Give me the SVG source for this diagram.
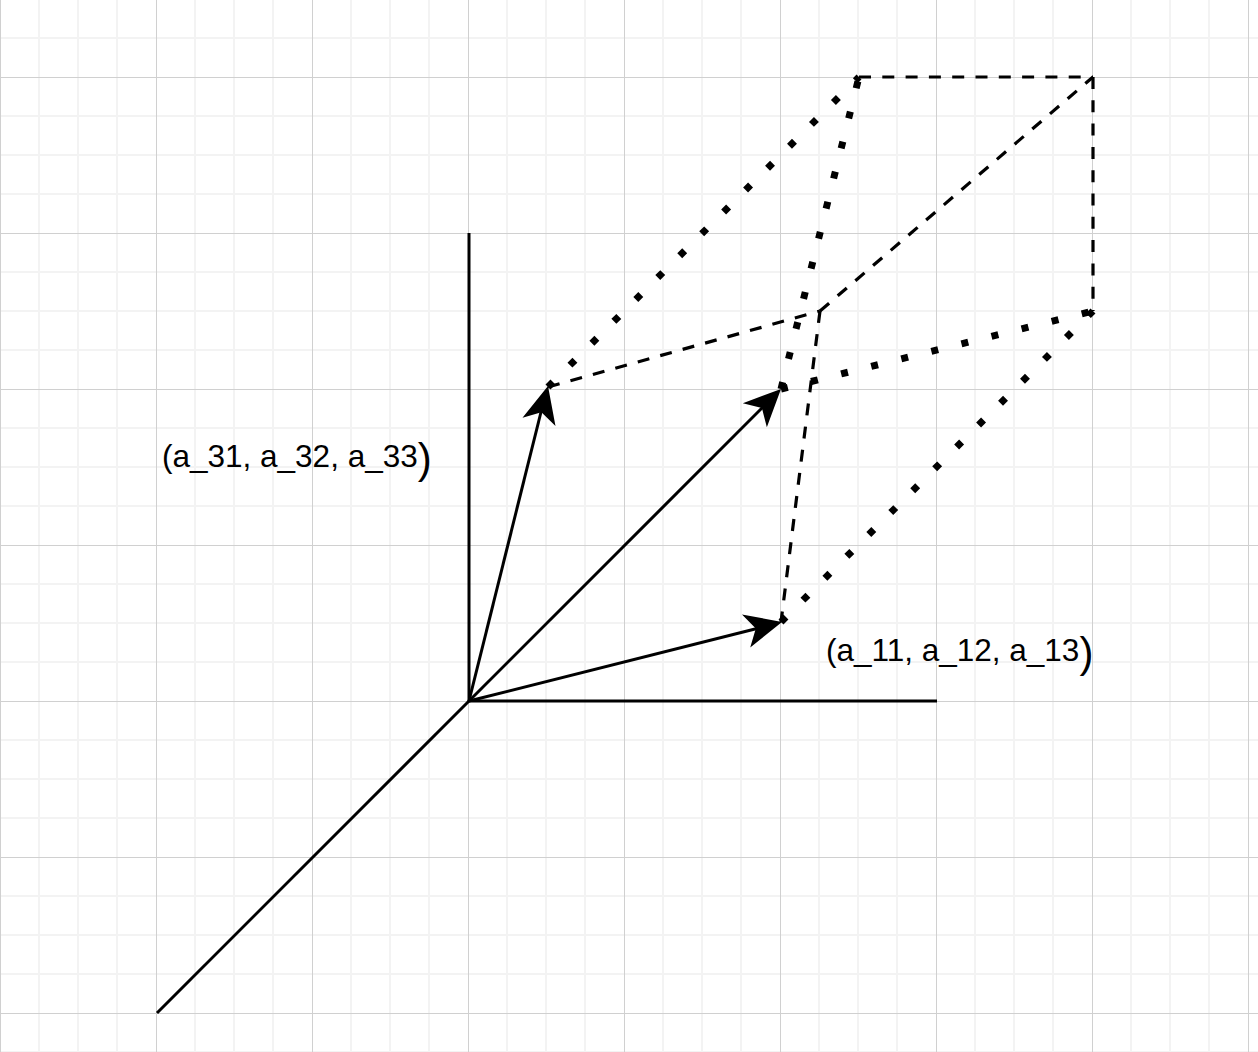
<svg xmlns="http://www.w3.org/2000/svg" xmlns:xlink="http://www.w3.org/1999/xlink" width="1258" height="1052" viewBox="0 0 1258 1052">
<style>
.minor{stroke:#f3f3f3;stroke-width:2;fill:none}
.major{stroke:#d0d0d0;stroke-width:1;fill:none}
.axis{stroke:#000;stroke-width:3;fill:none}
.dash{stroke:#000;stroke-width:3.2;fill:none;stroke-dasharray:12 11.3}
.dot{stroke:#000;stroke-width:7;fill:none;stroke-dasharray:7 24;stroke-linecap:butt}
.lbl{font-family:"Liberation Sans",Arial,Helvetica,sans-serif;font-size:31.5px;fill:#000}
</style>
<defs>
<path id="ah" d="M0,0 L-37,-17 L-27,0 L-37,17 Z" fill="#000"/>
</defs>
<rect width="1258" height="1052" fill="#fff"/>
<g id="grid">
<path class="minor" d="M0 0V1052M39 0V1052M78 0V1052M117 0V1052M195 0V1052M234 0V1052M273 0V1052M351 0V1052M390 0V1052M429 0V1052M507 0V1052M546 0V1052M585 0V1052M663 0V1052M702 0V1052M741 0V1052M819 0V1052M858 0V1052M897 0V1052M975 0V1052M1014 0V1052M1053 0V1052M1131 0V1052M1170 0V1052M1209 0V1052"/>
<path class="minor" d="M0 -1H1258M0 38H1258M0 116H1258M0 155H1258M0 194H1258M0 272H1258M0 311H1258M0 350H1258M0 428H1258M0 467H1258M0 506H1258M0 584H1258M0 623H1258M0 662H1258M0 740H1258M0 779H1258M0 818H1258M0 896H1258M0 935H1258M0 974H1258M0 1052H1258"/>
<path class="major" d="M0.5 0V1052M156.5 0V1052M312.5 0V1052M468.5 0V1052M624.5 0V1052M780.5 0V1052M936.5 0V1052M1092.5 0V1052M1248.5 0V1052"/>
<path class="major" d="M0 77.5H1258M0 233.5H1258M0 389.5H1258M0 545.5H1258M0 701.5H1258M0 857.5H1258M0 1013.5H1258"/>
</g>
<g id="axes">
<line class="axis" x1="469" y1="233" x2="469" y2="701"/>
<line class="axis" x1="469" y1="701" x2="937" y2="701"/>
<line class="axis" x1="469" y1="701" x2="157" y2="1013"/>
</g>
<g id="connectors">
<line class="dash" x1="548" y1="387" x2="820" y2="311"/>
<line class="dash" x1="820" y1="311" x2="1093" y2="77"/>
<line class="dash" x1="859" y1="77" x2="1093" y2="77"/>
<line class="dash" x1="1093" y1="77" x2="1093" y2="311"/>
<line class="dash" x1="820" y1="311" x2="781" y2="622"/>
<line class="dot" x1="548" y1="387" x2="859" y2="77"/>
<line class="dot" x1="781" y1="389" x2="859" y2="77"/>
<line class="dot" x1="781" y1="389" x2="1093" y2="311"/>
<line class="dot" x1="781" y1="622" x2="1093" y2="311"/>
</g>
<g id="vectors">
<line class="axis" x1="469" y1="701" x2="542" y2="408"/>
<use xlink:href="#ah" transform="translate(548,386) rotate(-75.9)"/>
<line class="axis" x1="469" y1="701" x2="764" y2="406"/>
<use xlink:href="#ah" transform="translate(781,389) rotate(-45)"/>
<line class="axis" x1="469" y1="701" x2="759" y2="628"/>
<use xlink:href="#ah" transform="translate(782,622) rotate(-14.04)"/>
</g>
<g id="label-a3">
<text class="lbl" x="162" y="467">(a_31, a_32, a_33<tspan font-size="42" dy="6">)</tspan></text>
</g>
<g id="label-a1">
<text class="lbl" x="826" y="661">(a_11, a_12, a_13<tspan font-size="42" dy="6">)</tspan></text>
</g>
</svg>
